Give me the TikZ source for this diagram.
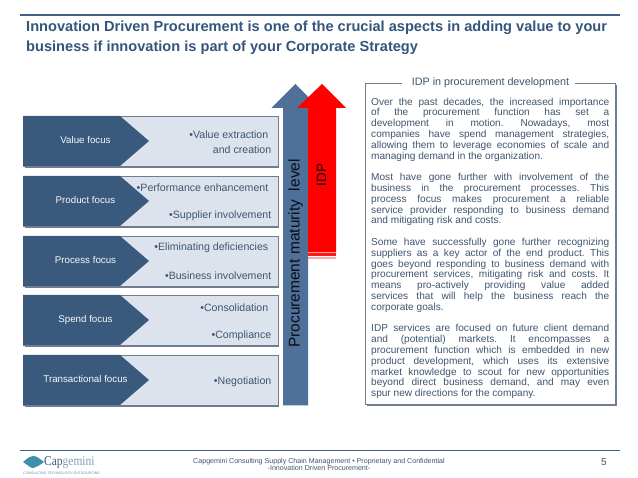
\documentclass[tikz,border=0pt]{standalone}
\usepackage{fontspec}
\setmainfont{Liberation Sans}
\newfontfamily\logofont[FakeStretch=.85]{Liberation Serif}
\usetikzlibrary{calc}
\definecolor{navy}{HTML}{3A5A7D}
\definecolor{arrowblue}{HTML}{4F7199}
\definecolor{pale}{HTML}{DCE3EC}
\definecolor{edgegrey}{HTML}{6E7E90}
\definecolor{bodytxt}{HTML}{3F5570}
\definecolor{titletxt}{HTML}{35567C}
\definecolor{rulecol}{HTML}{3D6285}
\tikzset{
  x=1pt,y=-1pt,
  rowbox/.style={draw=edgegrey,line width=.6pt,fill=pale},
  tag/.style={text=white,font=\fontsize{9.75}{11}\selectfont,inner sep=0pt,opacity=.95},
  item/.style={text=bodytxt,font=\fontsize{10.6}{12}\selectfont,inner sep=0pt,anchor=east},
  rulebar/.style={rulecol,line width=1.5pt},
}
\newcommand{\focusrow}[3]{%
  \fill[edgegrey] (25,#1+2) rectangle (279,#1+52);
  \node[rowbox,minimum width=255,minimum height=50,inner sep=0pt,anchor=north west] (#2box) at (23,#1) {};
  \fill[navy] (23,#1) -- (120,#1) -- (149,#1+25) -- (120,#1+50) -- (23,#1+50) -- cycle;
  \node[tag] (#2) at (85.5,#1+24.5) {#3};
}
\begin{document}
\begin{tikzpicture}
\useasboundingbox (0,0) rectangle (638,478);
\fill[white] (0,0) rectangle (638,478);
\draw[rulebar] (20,15) -- (620,15);
\node[anchor=north west,inner sep=0pt,text=titletxt,font=\bfseries\fontsize{14.6}{19.3}\selectfont,align=left] (title) at (26,21)
  {Innovation Driven Procurement is one of the crucial aspects in adding value to your\\business if innovation is part of your Corporate Strategy};
\focusrow{116}{value}{Value focus}
\focusrow{176}{product}{Product focus}
\focusrow{236}{process}{Process focus}
\focusrow{295}{spend}{Spend focus}
\focusrow{355}{trans}{Transactional focus}
\node[item] (i1) at (268.5,135) {•Value extraction};
\node[item] (i1b) at (271.5,149.5) {and creation};
\node[item] (i2) at (268.5,188) {•Performance enhancement};
\node[item] (i2b) at (271.5,216) {•Supplier involvement};
\node[item] (i3) at (268.5,248) {•Eliminating deficiencies};
\node[item] (i3b) at (271.5,276) {•Business involvement};
\node[item] (i4) at (268.5,307.5) {•Consolidation};
\node[item] (i4b) at (271.5,335.5) {•Compliance};
\node[item] (i5) at (271.5,381.5) {•Negotiation};
% arrows
\fill[arrowblue] (283,405.5) -- (283,108) -- (271.5,108) -- (295.5,84) -- (319,108) -- (308,108) -- (308,405.5) -- cycle;
\fill[red] (308,252.5) -- (308,108) -- (297,108) -- (322,84) -- (346,108) -- (336,108) -- (336,252.5) -- cycle;
\fill[red!90] (308,253.3) rectangle (336,255.7);
\fill[red!35] (308,257) rectangle (336,259);
\node[rotate=90,anchor=west,inner sep=0pt,text=black!85!navy,font=\fontsize{15.5}{16}\selectfont] (pml) at (295.5,348) {Procurement maturity\ \ level};
\node[rotate=90,inner sep=0pt,text=black!90!red,font=\fontsize{13.5}{14}\selectfont] (idp) at (321.5,175) {IDP};
% text box
\fill[edgegrey] (367,85) rectangle (617,406.5);
\draw[draw=edgegrey,fill=white,line width=.7pt] (365,83) rectangle (615,404.5);
\fill[white] (402,78) rectangle (575,88);
\node[inner sep=0pt,text=bodytxt,font=\fontsize{10.75}{12}\selectfont] (boxtitle) at (490.5,83) {IDP in procurement development};
\node[anchor=north west,inner sep=0pt,text=bodytxt,text width=238pt,font=\fontsize{10.1}{10.8}\selectfont,align=justify] (body) at (371,97.5)
{\frenchspacing\tolerance=10000 \hbadness=10000 \hfuzz=20pt \lefthyphenmin=62
Over the past decades, the increased importance\linebreak
of the procurement function has set a\linebreak
development in motion. Nowadays, most\linebreak
companies have spend management strategies,\linebreak
allowing them to leverage economies of scale and\linebreak
managing demand in the organization.\par\vspace{10.8pt}
Most have gone further with involvement of the\linebreak
business in the procurement processes. This\linebreak
process focus makes procurement a reliable\linebreak
service provider responding to business demand\linebreak
and mitigating risk and costs.\par\vspace{10.8pt}
Some have successfully gone further recognizing\linebreak
suppliers as a key actor of the end product. This\linebreak
goes beyond responding to business demand with\linebreak
procurement services, mitigating risk and costs. It\linebreak
means pro-actively providing value added\linebreak
services that will help the business reach the\linebreak
corporate goals.\par\vspace{10.8pt}
IDP services are focused on future client demand\linebreak
and (potential) markets. It encompasses a\linebreak
procurement function which is embedded in new\linebreak
product development, which uses its extensive\linebreak
market knowledge to scout for new opportunities\linebreak
beyond direct business demand, and may even\linebreak
spur new directions for the company.};
% footer
\draw[rulebar] (20,450.5) -- (620,450.5);
\node[inner sep=0pt,text=bodytxt,font=\fontsize{7.1}{7.3}\selectfont,align=center] (foot) at (319,464.5) {Capgemini Consulting Supply Chain Management • Proprietary and Confidential\\-Innovation Driven Procurement-};
\node[inner sep=0pt,text=bodytxt,font=\fontsize{10}{11}\selectfont] (page) at (604,462.5) {5};
% logo
\fill[arrowblue!80!cyan] (23,462) .. controls (28,458) and (30,456) .. (33,456) .. controls (37,456) and (40,459) .. (44,462) .. controls (40,465) and (37,467) .. (33,468) .. controls (30,468) and (28,465) .. (23,462) -- cycle;
\node[anchor=west,inner sep=0pt,text=navy,font=\logofont\fontsize{13.5}{14}\selectfont] (logo) at (44,462) {Cap\textcolor{arrowblue!70}{gemini}};
\node[anchor=west,inner sep=0pt,text=arrowblue!80,font=\fontsize{3.6}{4}\selectfont] (logotag) at (23,473.5) {CONSULTING.TECHNOLOGY.OUTSOURCING};
\end{tikzpicture}
\end{document}
